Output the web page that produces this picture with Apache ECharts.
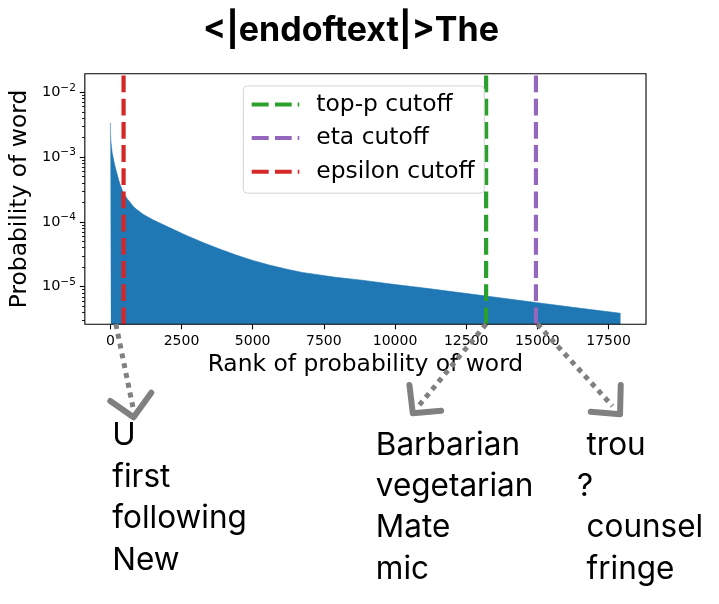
<!DOCTYPE html>
<html><head><meta charset="utf-8">
<script src="https://cdn.jsdelivr.net/npm/echarts@6/dist/echarts.min.js"></script>
<style>html,body{margin:0;padding:0;background:#fff}#c{width:719px;height:604px}</style>
</head><body><div id="c"></div>
<script>
// ---- data ----
const ranks = [0, 3, 20, 60, 115, 170, 230, 290, 349, 410, 464, 579, 700, 813, 930, 1162, 1511, 2093, 2674, 3256, 3838, 4419, 5000, 5582, 6164, 6745, 7907, 8838, 10000, 11165, 13200, 14944, 16444, 17920];
const probs = [3.4e-3, 2.36e-3, 1.73e-3, 1.2e-3, 9.0e-4, 7.03e-4, 5.62e-4, 4.51e-4, 3.71e-4, 3.16e-4, 2.76e-4, 2.31e-4, 1.99e-4, 1.72e-4, 1.55e-4, 1.3e-4, 1.07e-4, 8.11e-5, 6.17e-5, 4.81e-5, 3.82e-5, 3.08e-5, 2.55e-5, 2.16e-5, 1.88e-5, 1.66e-5, 1.4e-5, 1.26e-5, 1.08e-5, 9.37e-6, 7.18e-6, 5.7e-6, 4.69e-6, 3.89e-6];
const cutoffNames = ['top-p cutoff', 'eta cutoff', 'epsilon cutoff'];
const cutoffRanks = [13200, 14950, 465];
const xTicks = [0, 2500, 5000, 7500, 10000, 12500, 15000, 17500];
const yMajorExponents = [-5, -4, -3, -2];
const xRange = [-896, 18816];
const yProbRange = [2.63e-6, 1.94e-2];
const titleText = '<|endoftext|>The';
const wordsEpsilon = ['U', 'first', 'following', 'New'];
const wordsTopP = ['Barbarian', 'vegetarian', 'Mate', 'mic'];
const wordsEta = ['trou', '?', 'counsel', 'fringe'];

// ---- styling ----
const cutoffColors = ['#2ca02c', '#9467bd', '#d62728'];
const FONT = 'DejaVu Sans';
const LABEL_SIZE = 23.4;
const yMin = Math.log10(yProbRange[0]);
const yMax = Math.log10(yProbRange[1]);
const yMinor = [];
for (let e = -7; e <= -1; e++) {
  for (let m = 2; m <= 9; m++) {
    const v = Math.log10(m) + e;
    if (v >= yMin && v <= yMax) yMinor.push(v);
  }
}

const chart = echarts.init(document.getElementById('c'), null, {renderer: 'canvas'});
const option = {
  animation: false,
  backgroundColor: '#fff',
  title: {
    text: titleText, left: 351, top: 14, textAlign: 'center', padding: 0,
    textStyle: {fontFamily: 'Inter', fontWeight: 'bold', fontSize: 34, color: '#000', lineHeight: 34}
  },
  grid: {
    left: 80.3, top: 73.7, width: 565.7, height: 250.6,
    show: true, borderColor: '#000', borderWidth: 1.1, backgroundColor: 'transparent', z: 10
  },
  legend: {
    data: cutoffNames, orient: 'vertical', left: 243.3, top: 86,
    padding: [7, 9.7, 10, 8.4], itemGap: 10.6, itemWidth: 47.6, itemHeight: 4,
    icon: 'path://M0,0H17V4H0Z M23.3,0H40V4H23.3Z M46,0H47.6V4H46Z',
    itemStyle: {borderWidth: 0},
    textStyle: {fontFamily: FONT, fontSize: LABEL_SIZE, color: '#000', padding: [0, 0, 0, 12]},
    backgroundColor: 'rgba(255,255,255,0.8)', borderColor: '#d4d4d4', borderWidth: 1, borderRadius: 4,
    selectedMode: false, z: 12
  },
  xAxis: {
    type: 'value', min: xRange[0], max: xRange[1],
    name: 'Rank of probability of word', nameLocation: 'middle', nameGap: 29.5,
    nameTextStyle: {fontFamily: FONT, fontSize: LABEL_SIZE, color: '#000'},
    axisLine: {show: false, onZero: false}, splitLine: {show: false},
    axisTick: {show: true, customValues: xTicks, length: 5, lineStyle: {color: '#000', width: 1.1}},
    axisLabel: {customValues: xTicks, margin: 10, fontFamily: FONT, fontSize: 14, color: '#000',
      formatter: v => String(v)}
  },
  yAxis: [{
    type: 'value', min: yMin, max: yMax, position: 'left',
    name: 'Probability of word', nameLocation: 'middle', nameGap: 53, nameRotate: 90,
    nameTextStyle: {fontFamily: FONT, fontSize: LABEL_SIZE, color: '#000'},
    axisLine: {show: false, onZero: false}, splitLine: {show: false},
    axisTick: {show: true, customValues: yMajorExponents, length: 5, lineStyle: {color: '#000', width: 1.1}},
    axisLabel: {
      customValues: yMajorExponents, margin: 9, fontFamily: FONT, fontSize: 14.5, color: '#000',
      formatter: v => '{a|10}{b|\u2212' + Math.abs(Math.round(v)) + '}',
      rich: {
        a: {fontFamily: FONT, fontSize: 14.5, color: '#000', lineHeight: 20},
        b: {fontFamily: FONT, fontSize: 10.5, color: '#000', verticalAlign: 'top'}
      }
    }
  }, {
    type: 'value', min: yMin, max: yMax, position: 'left', offset: 0,
    axisLine: {show: false, onZero: false}, splitLine: {show: false}, axisLabel: {show: false},
    axisTick: {show: true, customValues: yMinor, length: 2.8, lineStyle: {color: '#000', width: 0.9}}
  }],
  series: [{
    type: 'line', name: 'probability', silent: true,
    data: ranks.map((r, i) => [r, Math.log10(probs[i])]),
    symbol: 'none', showSymbol: false, color: '#1f77b4',
    lineStyle: {width: 0.6, color: '#1f77b4'},
    areaStyle: {color: '#1f77b4', opacity: 1, origin: 'start'}, z: 2
  }].concat(cutoffNames.map((n, i) => ({
    type: 'line', name: n, silent: true, color: cutoffColors[i],
    data: [[cutoffRanks[i], yMin], [cutoffRanks[i], yMax]],
    symbol: 'none', showSymbol: false,
    lineStyle: {color: cutoffColors[i], width: 4.2, type: [16.8, 6.4], cap: 'butt'},
    z: 3
  })))
};
chart.setOption(option);

// ---- annotation arrows and token lists, anchored to the cutoff positions ----
const px = v => chart.convertToPixel({xAxisIndex: 0}, v);
const cxTop = px(cutoffRanks[0]), cxEta = px(cutoffRanks[1]), cxEps = px(cutoffRanks[2]);
const GRAY = '#808080';
function arrow(cx, shaft, head) {
  return [{
    type: 'polyline', z: 50,
    shape: {points: shaft.map(p => [cx + p[0], p[1]])},
    style: {stroke: GRAY, lineWidth: 5, lineDash: [5, 5], fill: null, lineCap: 'butt'}
  }, {
    type: 'polyline', z: 50,
    shape: {points: head.map(p => [cx + p[0], p[1]])},
    style: {stroke: GRAY, lineWidth: 6, fill: null, lineCap: 'round', lineJoin: 'round'}
  }];
}
const WORD_SIZE = 31.5;
function words(list, x, baselines, offsets) {
  return list.map((w, i) => ({
    type: 'text', z: 50, x: x + (offsets ? offsets[i] : 0), y: baselines[i] - 0.363 * WORD_SIZE,
    style: {text: w, fontFamily: 'Inter', fontSize: WORD_SIZE, fill: '#000', align: 'left', verticalAlign: 'middle'}
  }));
}
const baseA = [447.3, 488.8, 530.3, 571.8];
const baseB = [456.7, 498.0, 539.3, 580.6];
const graphics = [].concat(
  arrow(cxEps, [[-7.7, 324], [9.3, 407]], [[-13.3, 401], [10, 417.3], [27.7, 392.7]]),
  arrow(cxTop, [[0, 324], [-66.7, 405]], [[-76.7, 385], [-73.3, 413.3], [-45, 410.7]]),
  arrow(cxEta, [[1.5, 324], [76.5, 406]], [[84.8, 385], [84.1, 414.3], [54.8, 411.7]]),
  words(wordsEpsilon, 112.3, baseA),
  words(wordsTopP, 375.8, baseB),
  words(wordsEta, 586.5, baseB, [0, -9.5, 0, 0])
);
chart.setOption({graphic: graphics});
</script>
</body></html>
